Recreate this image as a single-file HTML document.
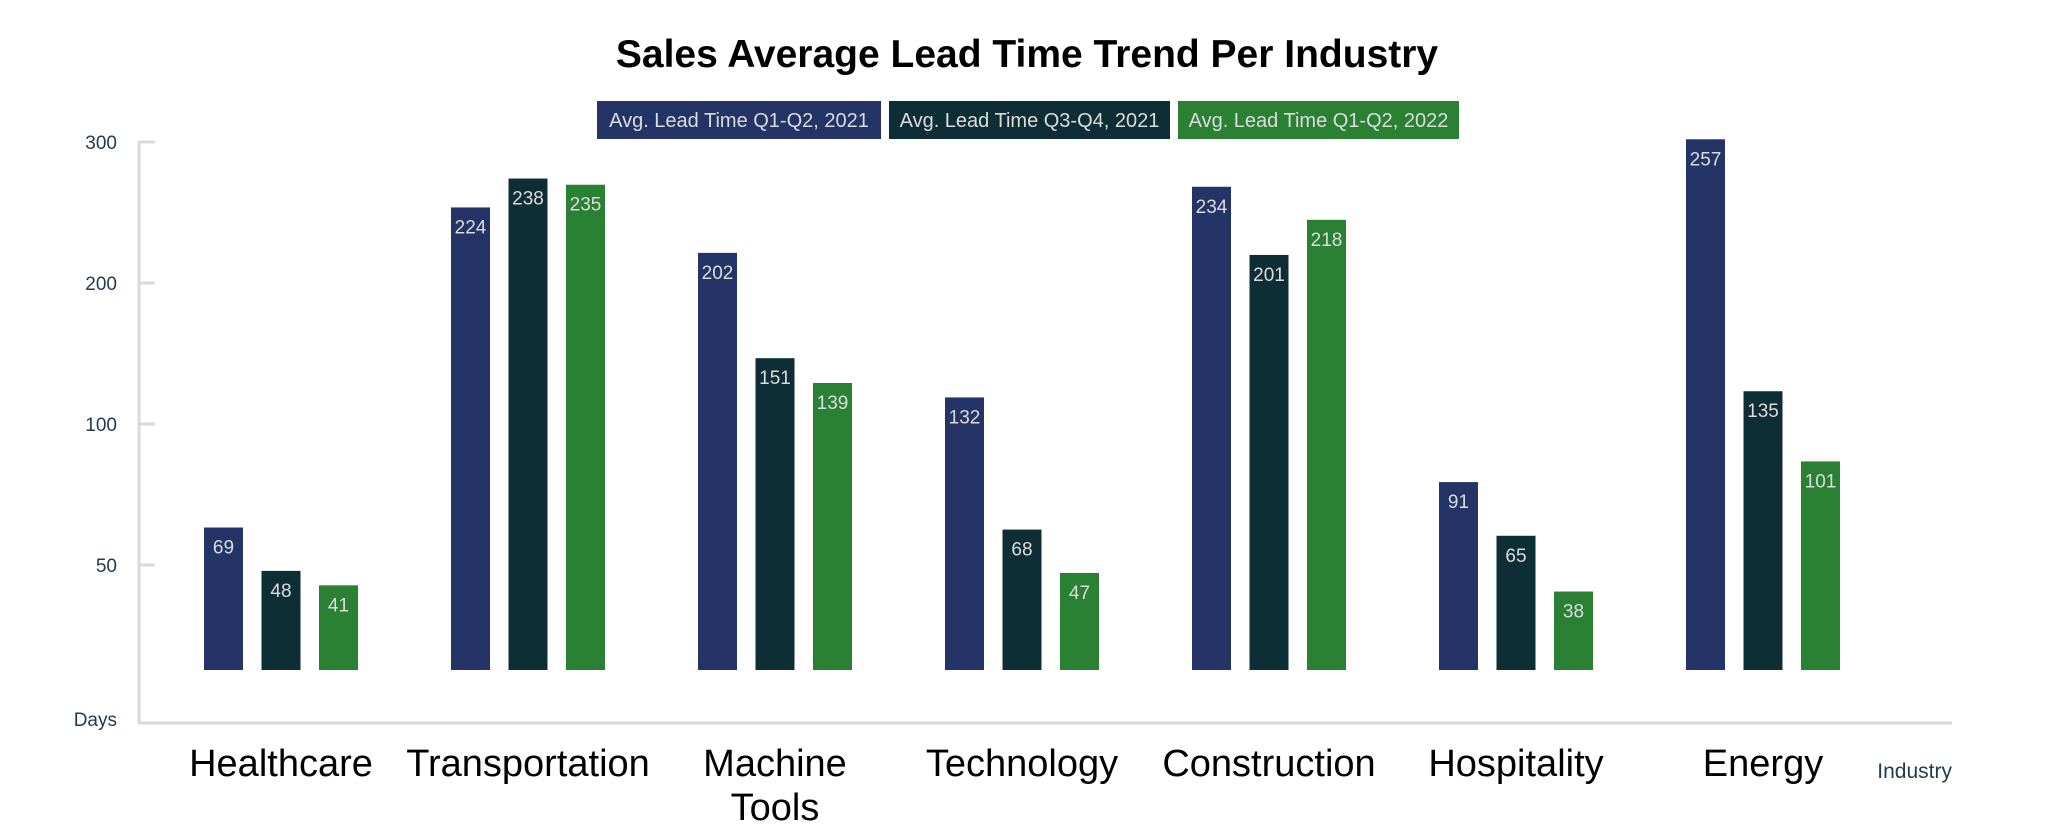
<!DOCTYPE html>
<html><head><meta charset="utf-8">
<style>
html,body{margin:0;padding:0;background:#fff;}
svg{display:block;font-family:"Liberation Sans",sans-serif;}
</style></head>
<body>
<svg id="chart" width="2048" height="839" viewBox="0 0 2048 839">
<text x="1027" y="67" text-anchor="middle" font-size="39" font-weight="bold" fill="#000">Sales Average Lead Time Trend Per Industry</text>
<g id="legend"></g>
<g id="axes"></g>
<g id="bars"></g>
</svg>
<script>
const categories = ["Healthcare","Transportation","Machine Tools","Technology","Construction","Hospitality","Energy"];
const seriesNames = ["Avg. Lead Time Q1-Q2, 2021","Avg. Lead Time Q3-Q4, 2021","Avg. Lead Time Q1-Q2, 2022"];
const seriesQ12021 = [69,224,202,132,234,91,257];
const seriesQ34_2021 = [48,238,151,68,201,65,135];
const seriesQ12022 = [41,235,139,47,218,38,101];
const tickLabels = ["300","200","100","50"];

const NS="http://www.w3.org/2000/svg";
const colors=["#243466","#0e2e36","#2a8033"];
const series=[seriesQ12021,seriesQ34_2021,seriesQ12022];
const baseY=670, pxPerUnit=2.065;
function yScale(v){return baseY - v*pxPerUnit;}
function xGroup(i){return 204 + i*247;}
function xBar(i,s){return xGroup(i) + s*57.5;}
const barW=39;
function mk(tag,attrs,parent){const e=document.createElementNS(NS,tag);for(const k in attrs)e.setAttribute(k,attrs[k]);parent.appendChild(e);return e;}

const lg=document.getElementById('legend');
const legX=[597,889,1178], legW=[284,281,281];
seriesNames.forEach((n,s)=>{
  const r=mk('rect',{x:legX[s],y:101,width:legW[s],height:38,fill:colors[s]},lg);
  
  
  const t=mk('text',{x:legX[s]+legW[s]/2,y:127,'text-anchor':'middle','font-size':20,fill:'#dcdcdc'},lg);
  t.textContent=n;
  
  
});

const ax=document.getElementById('axes');
const yl=mk('line',{x1:139,y1:141,x2:139,y2:724,stroke:'#dadada','stroke-width':3},ax);


const xl=mk('line',{x1:138,y1:723,x2:1952,y2:723,stroke:'#dadada','stroke-width':3},ax);


const tickY=[142,283,424,565];
tickLabels.forEach((lab,i)=>{
  const tk=mk('line',{x1:139,y1:tickY[i],x2:155,y2:tickY[i],stroke:'#dadada','stroke-width':3},ax);
  
  
  const t=mk('text',{x:117,y:tickY[i]+7,'text-anchor':'end','font-size':19,fill:'#1f3b4d'},ax);
  t.textContent=lab;
  
  
});
const days=mk('text',{x:117,y:726,'text-anchor':'end','font-size':19,fill:'#1f3b4d'},ax);
days.textContent='Days';


const ind=mk('text',{x:1952,y:778,'text-anchor':'end','font-size':21,fill:'#1f3b4d'},ax);
ind.textContent='Industry';



categories.forEach((c,i)=>{
  const cx=xGroup(i)+77;
  const words=c==="Machine Tools"?["Machine","Tools"]:[c];
  words.forEach((w,j)=>{
    const t=mk('text',{x:cx,y:776+j*44,'text-anchor':'middle','font-size':38,fill:'#000'},ax);
    t.textContent=w;
    
    
  });
});

const bg=document.getElementById('bars');
series.forEach((vals,s)=>{
  vals.forEach((v,i)=>{
    const x=xBar(i,s), y=yScale(v);
    const r=mk('rect',{x:x,y:y,width:barW,height:baseY-y,fill:colors[s]},bg);
    
    
    const t=mk('text',{x:x+barW/2,y:y+26,'text-anchor':'middle','font-size':19,fill:'#dcdcdc'},bg);
    t.textContent=v;
    
    
  });
});
</script>
</body></html>
